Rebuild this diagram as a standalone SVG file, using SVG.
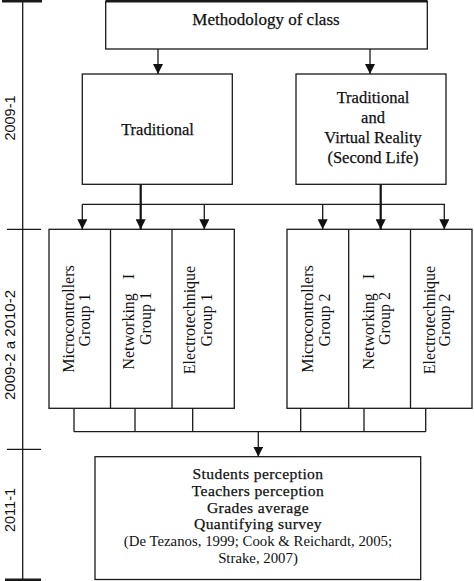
<svg xmlns="http://www.w3.org/2000/svg" width="474" height="581" viewBox="0 0 474 581">
<defs>
<marker id="ah" markerUnits="userSpaceOnUse" markerWidth="10" markerHeight="10" refX="10" refY="5" orient="auto" viewBox="0 0 10 10">
<path d="M0,0 L10,5 L0,10 z" fill="#111"/>
</marker>
</defs>
<style>
.box{fill:#fff;stroke:#1a1a1a;stroke-width:1.3}
.ln{fill:none;stroke:#1a1a1a;stroke-width:1.3}
.thick{fill:none;stroke:#111;stroke-width:2.2}
.arr{marker-end:url(#ah)}
.hd{font-family:"Liberation Serif","Times New Roman",serif;font-size:16.5px;fill:#111;stroke:#111;stroke-width:0.25;text-anchor:middle}
.res{font-family:"Liberation Serif","Times New Roman",serif;font-size:15.6px;letter-spacing:0.4px;fill:#111;stroke:#111;stroke-width:0.25;text-anchor:middle}
.col{font-family:"Liberation Serif","Times New Roman",serif;font-size:16px;fill:#111;text-anchor:middle}
.cit{font-family:"Liberation Serif","Times New Roman",serif;font-size:14.8px;fill:#111;text-anchor:middle}
.ax{font-family:"Liberation Sans",Arial,sans-serif;font-size:14.5px;fill:#111;text-anchor:middle}
</style>
<rect width="474" height="581" fill="#fff"/>

<g id="timeline">
<line class="ln" x1="22.7" y1="0" x2="22.7" y2="581"/>
<line class="ln" x1="2" y1="1.2" x2="42" y2="1.2" style="stroke-width:2.6"/>
<line class="ln" x1="7" y1="229.3" x2="41" y2="229.3"/>
<line class="ln" x1="7" y1="449.3" x2="41" y2="449.3"/>
<line class="ln" x1="5" y1="579.8" x2="41" y2="579.8" style="stroke-width:2.6"/>
<text class="ax" transform="translate(14.5,118) rotate(-90)">2009-1</text>
<text class="ax" transform="translate(14.5,345) rotate(-90)" style="font-size:15px">2009-2 a 2010-2</text>
<text class="ax" transform="translate(14.5,510) rotate(-90)">2011-1</text>
</g>

<g id="methodology">
<rect class="box" x="105.7" y="1.3" width="321.6" height="47.7"/>
<line class="ln" x1="105.7" y1="1.2" x2="427.3" y2="1.2" style="stroke-width:2.6"/>
<text class="hd" x="266" y="25" style="font-size:17px">Methodology of class</text>
</g>

<g id="traditional">
<rect class="box" x="82.3" y="74" width="150" height="110.3"/>
<text class="hd" x="157.5" y="135">Traditional</text>
</g>

<g id="traditional-vr">
<rect class="box" x="296" y="74" width="150" height="110.3"/>
<text class="hd" x="373" y="103">Traditional</text>
<text class="hd" x="373" y="122.7">and</text>
<text class="hd" x="373" y="142.7">Virtual Reality</text>
<text class="hd" x="373" y="162.7">(Second Life)</text>
</g>

<g id="group1">
<rect class="box" x="49" y="229.3" width="185.3" height="179"/>
<line class="ln" x1="110.5" y1="229.3" x2="110.5" y2="408.3"/>
<line class="ln" x1="172" y1="229.3" x2="172" y2="408.3"/>
<text class="col" transform="translate(73.5,319) rotate(-90)">Microcontrollers</text>
<text class="col" transform="translate(90,320) rotate(-90)">Group 1</text>
<text class="col" transform="translate(133.5,321.7) rotate(-90)">Networking<tspan dx="14">I</tspan></text>
<text class="col" transform="translate(150.5,318.5) rotate(-90)">Group 1</text>
<text class="col" transform="translate(195,320) rotate(-90)">Electrotechnique</text>
<text class="col" transform="translate(212,320) rotate(-90)">Group 1</text>
</g>

<g id="group2">
<rect class="box" x="287" y="229.3" width="185" height="179"/>
<line class="ln" x1="348.7" y1="229.3" x2="348.7" y2="408.3"/>
<line class="ln" x1="410.5" y1="229.3" x2="410.5" y2="408.3"/>
<text class="col" transform="translate(313,319) rotate(-90)">Microcontrollers</text>
<text class="col" transform="translate(329.5,320) rotate(-90)">Group 2</text>
<text class="col" transform="translate(373.5,321.7) rotate(-90)">Networking<tspan dx="14">I</tspan></text>
<text class="col" transform="translate(389.5,318.5) rotate(-90)">Group 2</text>
<text class="col" transform="translate(435,320) rotate(-90)">Electrotechnique</text>
<text class="col" transform="translate(449.5,320) rotate(-90)">Group 2</text>
</g>

<g id="results">
<rect class="box" x="95" y="456.7" width="325.7" height="122.8"/>
<text class="res" x="258" y="479.3">Students perception</text>
<text class="res" x="258" y="496">Teachers perception</text>
<text class="res" x="258" y="512.7">Grades average</text>
<text class="res" x="258" y="529.3">Quantifying survey</text>
<text class="cit" x="258" y="546">(De Tezanos, 1999; Cook &amp; Reichardt, 2005;</text>
<text class="cit" x="258" y="562.7">Strake, 2007)</text>
</g>

<g id="connectors">
<line class="ln arr" x1="158" y1="49" x2="158" y2="74"/>
<line class="ln arr" x1="370" y1="49" x2="370" y2="74"/>
<line class="ln" x1="82.3" y1="204.3" x2="445" y2="204.3"/>
<line class="thick arr" x1="140.7" y1="184.3" x2="140.7" y2="229.3"/>
<line class="thick arr" x1="380.7" y1="184.3" x2="380.7" y2="229.3"/>
<line class="ln arr" x1="82.3" y1="204.3" x2="82.3" y2="229.3"/>
<line class="ln arr" x1="204.3" y1="204.3" x2="204.3" y2="229.3"/>
<line class="ln arr" x1="322.7" y1="204.3" x2="322.7" y2="229.3"/>
<line class="ln arr" x1="444.3" y1="204.3" x2="444.3" y2="229.3"/>
<path class="ln" d="M74,408.3 V431.7 M135,408.3 V431.7 M192.7,408.3 V431.7 M300.7,408.3 V431.7 M364,408.3 V431.7 M425.7,408.3 V431.7 M74,431.7 H425.7"/>
<line class="ln arr" x1="258.3" y1="431.7" x2="258.3" y2="456.7"/>
</g>
</svg>
